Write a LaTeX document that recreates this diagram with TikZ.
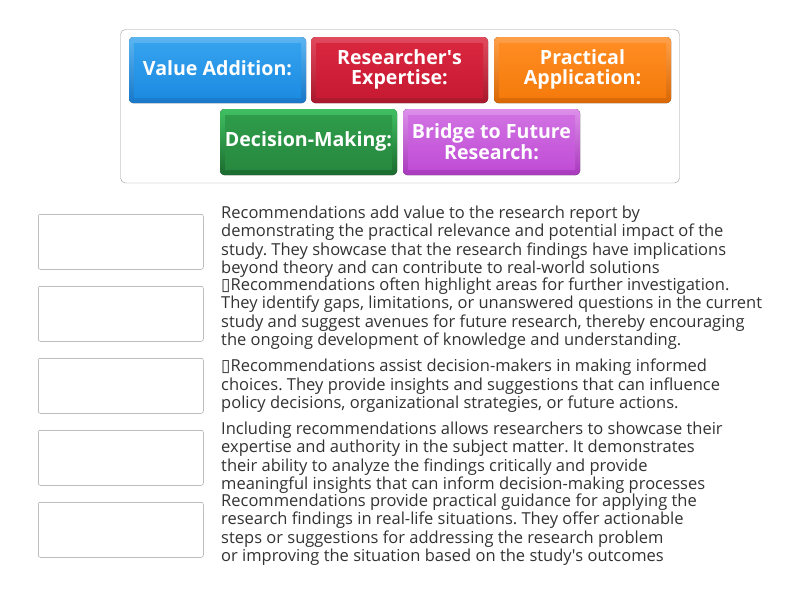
\documentclass[tikz,border=0pt]{standalone}
\usepackage{fontspec}
\setmainfont{Open Sans}
\newfontfamily\symfont{DejaVu Sans}
\usetikzlibrary{positioning}
\frenchspacing

\definecolor{vaL}{HTML}{5CB6F2}
\definecolor{vaD}{HTML}{1877C8}
\definecolor{vaF}{HTML}{35A2EE}
\definecolor{vaG}{HTML}{1C8CE2}
\definecolor{reL}{HTML}{E24A5E}
\definecolor{reD}{HTML}{A8172B}
\definecolor{reF}{HTML}{D9263F}
\definecolor{reG}{HTML}{C81A33}
\definecolor{paL}{HTML}{FFA049}
\definecolor{paD}{HTML}{D86704}
\definecolor{paF}{HTML}{FF8C22}
\definecolor{paG}{HTML}{F57B0C}
\definecolor{dmL}{HTML}{40C062}
\definecolor{dmD}{HTML}{1B6A2E}
\definecolor{dmF}{HTML}{2E9C4A}
\definecolor{dmG}{HTML}{27893F}
\definecolor{bfL}{HTML}{DD90EA}
\definecolor{bfD}{HTML}{A838BC}
\definecolor{bfF}{HTML}{D070E2}
\definecolor{bfG}{HTML}{C14ED6}
\definecolor{frame}{HTML}{9A9A9A}
\definecolor{ink}{HTML}{333333}

\tikzset{
  tiletext/.style={text=white, align=center, inner sep=0pt,
    font=\bfseries\fontsize{19.6}{20.7}\selectfont},
  slot/.style={draw=frame, rounded corners=2pt, minimum width=165pt,
    minimum height=55pt, inner sep=0pt},
  desc/.style={text=ink, align=left, anchor=west, inner sep=0pt,
    font=\fontsize{16.5}{18.3}\selectfont}
}
\newcommand\tofu{{\symfont\fontsize{17}{17}\selectfont ▯}}

\begin{document}
\begin{tikzpicture}
[x=1pt, y=-1pt]
\useasboundingbox (0,0) rectangle (800,600);
\fill [white] (0,0) rectangle (800,600);
\draw [frame, rounded corners=5pt] (120.5,29.5) rectangle (679.5,183);
\foreach \x/\y/\c in {129/37/va, 311/37/re, 494/37/pa, 220/109/dm, 403/109/bf}
{
  \fill [rounded corners=4pt, top color=\c L, bottom color=\c D] (\x,\y) rectangle ++(177,66);
  \fill [top color=\c F, bottom color=\c G] (\x+5,\y+6) rectangle ++(167,54);
}
\node [tiletext] (va) at (217.5,68.5) {Value Addition:};
\node [tiletext] (re) at (399.5,69.5) {Researcher\textquotesingle s\\Expertise:};
\node [tiletext] (pa) at (582.5,69.5) {Practical\\Application:};
\node [tiletext] (dm) at (308.5,141) {Decision-Making:};
\node [tiletext] (bf) at (491.5,141.5) {Bridge to Future\\Research:};
\foreach \i in {1,...,5}
  \node [slot] (slot\i) at (120.8,169.8+72*\i) {};
\node [desc] (d1) at (221,241.8) {Recommendations add value to the research report by\\demonstrating the practical relevance and potential impact of the\\study. They showcase that the research findings have implications\\beyond theory and can contribute to real-world solutions};
\node [desc] (d2) at (221,313.8) {\tofu Recommendations often highlight areas for further investigation.\\They identify gaps, limitations, or unanswered questions in the current\\study and suggest avenues for future research, thereby encouraging\\the ongoing development of knowledge and understanding.};
\node [desc] (d3) at (221,385.8) {\tofu Recommendations assist decision-makers in making informed\\choices. They provide insights and suggestions that can influence\\policy decisions, organizational strategies, or future actions.};
\node [desc] (d4) at (221,457.8) {Including recommendations allows researchers to showcase their\\expertise and authority in the subject matter. It demonstrates\\their ability to analyze the findings critically and provide\\meaningful insights that can inform decision-making processes};
\node [desc] (d5) at (221,529.8) {Recommendations provide practical guidance for applying the\\research findings in real-life situations. They offer actionable\\steps or suggestions for addressing the research problem\\or improving the situation based on the study\textquotesingle s outcomes};
\end{tikzpicture}
\end{document}
